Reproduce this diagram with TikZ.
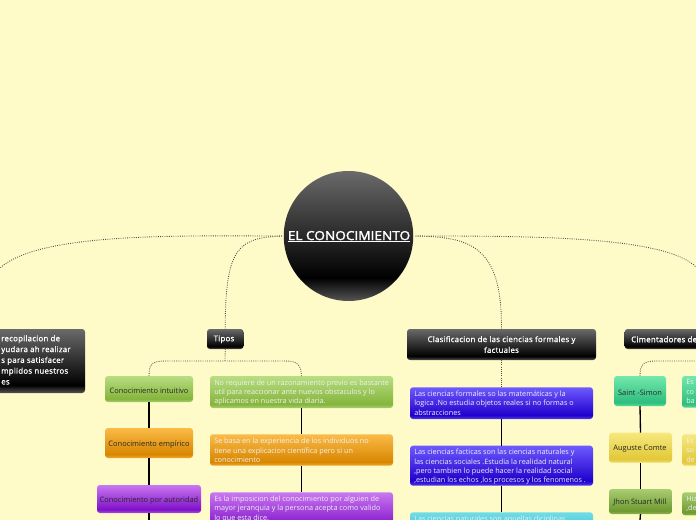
\documentclass[tikz,border=0pt]{standalone}
\usepackage{fontspec}
\setmainfont{Open Sans}
\newfontfamily\headfont[FakeBold=1.1,LetterSpace=3]{Open Sans}
\newfontfamily\titlefont[FakeBold=2.2,FakeStretch=1.1]{Open Sans}
\usetikzlibrary{shapes.geometric}
\definecolor{paper}{HTML}{FFFBC8}
\newcommand{\glossy}[4]{%
 \definecolor{#1T}{HTML}{#2}\definecolor{#1D}{HTML}{#3}\definecolor{#1G}{HTML}{#4}%
 \pgfdeclareverticalshading{#1}{100bp}{color(0bp)=(#1G); color(25bp)=(#1G); color(31bp)=(#1D); color(75bp)=(#1T); color(100bp)=(#1T)}}
\glossy{sdark}{6A6A6A}{000000}{555555}
\glossy{sgreen}{B8DE82}{84B53C}{A8D070}
\glossy{sorange}{FBBB48}{D88600}{F0A830}
\glossy{spurple}{C978F0}{7F10C8}{A850E0}
\glossy{sblue}{6E5AFF}{2000CC}{5040F0}
\glossy{scyan}{70DDE8}{30B8CC}{60D0E0}
\glossy{steal}{74E8AC}{2EBE7E}{5CD89C}
\glossy{syellow}{F6E87E}{E2C838}{F0DC68}
\glossy{solive}{A9CD72}{6E9A30}{90B858}
\pgfdeclareverticalshading{sball}{100bp}{color(0bp)=(sdarkG); color(25bp)=(sdarkG); color(34bp)=(black); color(75bp)=(sdarkT); color(100bp)=(sdarkT)}
\tikzset{x=0.75pt,y=-0.75pt,
 link/.style={draw=black!70,densely dotted,line width=0.65pt},
 stem/.style={draw=black,line width=1pt},
 txt/.style={font=\fontsize{5.45pt}{7pt}\selectfont,text=white!94!black,align=left,anchor=north west,inner sep=0pt},
 lab/.style={font=\fontsize{5.6pt}{7pt}\selectfont,text=black!85,align=center,inner sep=0pt},
 head/.style={font=\headfont\fontsize{5.9pt}{8.1pt}\selectfont,text=white,align=center,inner sep=0pt}}
\newcommand{\gbox}[6]{% name x y w h shading
 \shade[rounded corners=2.2pt,shading=#6] (#2,#3) rectangle ++(#4,#5);
 \coordinate (#1) at ({#2+#4/2},{#3+#5/2});
 \coordinate (#1t) at ({#2+#4/2},#3);
 \coordinate (#1b) at ({#2+#4/2},{#3+#5});}
\begin{document}
\begin{tikzpicture}
\useasboundingbox (0,0) rectangle (696,520);
\fill[paper] (0,0) rectangle (696,520);
% dark header boxes
\gbox{h0}{-20}{329}{105}{64}{sdark}
\gbox{h1}{207}{329}{36.5}{20}{sdark}
\gbox{h2}{407}{329}{189}{31}{sdark}
\gbox{h3}{624.7}{329}{125}{20}{sdark}
% centre
\node[ellipse,minimum width=129.5*0.75pt,minimum height=130*0.75pt,inner sep=0pt,shading=sball] (c) at (348.5,236) {};
% connectors
\coordinate (cl) at (282,236);
\coordinate (cr) at (415.5,236);
\coordinate (e0) at (0,268);
\coordinate (e3) at (696,267);
\path[link] (cl) .. controls (180,236) and (40,232) .. (e0);
\path[link] (cl) .. controls (240,238) and (225,245) .. (h1t);
\path[link] (cr) .. controls (470,237) and (502,245) .. (h2t);
\path[link] (cr) .. controls (530,236) and (665,236) .. (e3);
% left column
\gbox{a1}{105}{376}{88}{26}{sgreen}
\gbox{a2}{105}{428}{88}{30}{sorange}
\gbox{a3}{97}{485}{104}{28}{spurple}
\gbox{b1}{210}{376}{183}{32}{sgreen}
\gbox{b2}{210}{434.3}{183}{31.4}{sorange}
\gbox{b3}{210}{492.3}{183}{40}{spurple}
\gbox{p1}{410}{387.3}{183}{31.7}{sblue}
\gbox{p2}{410}{445.7}{183}{40}{sblue}
\gbox{p3}{410}{512.3}{183}{30}{scyan}
\gbox{q1}{614}{376}{52}{30}{steal}
\gbox{q2}{609}{432.7}{63}{30}{syellow}
\gbox{q3}{609}{489}{63}{25}{solive}
\gbox{r1}{682}{376}{40}{31.7}{steal}
\gbox{r2}{682}{434.3}{40}{31.4}{syellow}
\gbox{r3}{682}{492.3}{40}{23}{solive}
% tree links
\coordinate (s1) at (225,361);
\coordinate (s3) at (640,361);
\coordinate (e4) at (696,361);
\path[link] (h1b) -- (s1);
\path[link] (a1t) .. controls (149,365) and (151,361) .. (165,361) -- (s1) -- (285,361) .. controls (298,361) and (301,365) .. (b1t);
\path[link] (h2b) -- (p1t);
\path[link] (q1t) .. controls (640,365) and (643,361) .. (656,361) -- (e4);
% stems
\foreach \u/\v in {a1/a2,a2/a3,b1/b2,b2/b3,p1/p2,p2/p3,q1/q2,q2/q3}
 \path[stem] (\u b) -- (\v t);
\coordinate (e5) at (149,520);
\coordinate (e6) at (640,520);
\path[stem] (a3b) -- (e5);
\path[stem] (q3b) -- (e6);
% texts
\node[font=\titlefont\fontsize{9.3pt}{10pt}\selectfont,text=white,inner sep=0pt] (ct) at (349,235.6) {EL CONOCIMIENTO};
\draw[white,line width=0.7pt] ([yshift=-1pt]ct.south west) -- ([yshift=-1pt]ct.south east);
\node[head,align=left,anchor=north west] (h0t) at (1,335) {recopilacion de\\yudara ah realizar\\s para satisfacer\\mplidos nuestros\\es};
\node[head] (h1t) at (224,339.3) {Tipos};
\node[head] (h2t) at (h2) {Clasificacion de las ciencias formales y\\factuales};
\node[head,anchor=west] (h3t) at (631,339.3) {Cimentadores de};
\node[lab] (a1t) at (149,390.6) {Conocimiento intuitivo};
\node[lab] (a2t) at (149,444.5) {Conocimiento empírico};
\node[lab] (a3t) at (149,500.3) {Conocimiento por autoridad};
\node[lab] (q1t) at (640,392.3) {Saint -Simon};
\node[lab] (q2t) at (640,448.7) {Auguste Comte};
\node[lab] (q3t) at (640,502.3) {Jhon Stuart Mill};
\node[txt] (b1t) at (214,379.5) {No requiere de un razonamiento previo es bastante\\util para reaccionar ante nuevos obstaculos y lo\\aplicamos en nuestra vida diaria.};
\node[txt] (b2t) at (214,438) {Se basa en la experiencia de los individuos no\\tiene una explicacion científica pero si un\\conocimiento};
\node[txt] (b3t) at (214,495.8) {Es la imposicion del conocimiento por alguien de\\mayor jeranquia y la persona acepta como valido\\lo que esta dice.};
\node[txt] (p1t) at (414,390.8) {Las ciencias formales so las matemáticas y la\\logica .No estudia objetos reales si no formas o\\abstracciones};
\node[txt] (p2t) at (414,449) {Las ciencias facticas son las ciencias naturales y\\las ciencias sociales .Estudia la realidad natural\\,pero tambien lo puede hacer la realidad social\\,estudian los echos ,los procesos y los fenomenos .};
\node[txt] (p3t) at (414,515.5) {Las ciencias naturales son aquellas diciplinas};
\node[txt] (r1t) at (686,379.5) {Es\\co\\ba};
\node[txt] (r2t) at (686,438) {Es\\so\\de};
\node[txt] (r3t) at (686,495.8) {Hiz\\,de};
\end{tikzpicture}
\end{document}
